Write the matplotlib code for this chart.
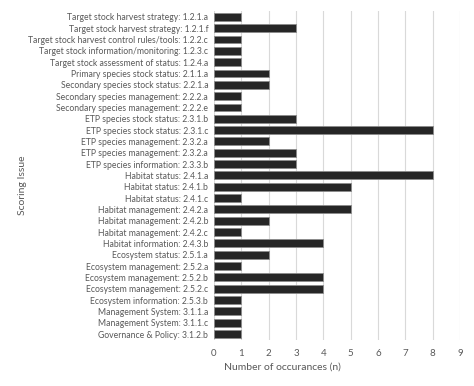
import matplotlib
matplotlib.use('Agg')
import matplotlib.pyplot as plt

# ── data ──────────────────────────────────────────────────────────────────────

issues = [
    'Target stock harvest strategy: 1.2.1.a',
    'Target stock harvest strategy: 1.2.1.f',
    'Target stock harvest control rules/tools: 1.2.2.c',
    'Target stock information/monitoring: 1.2.3.c',
    'Target stock assessment of status: 1.2.4.a',
    'Primary species stock status: 2.1.1.a',
    'Secondary species stock status: 2.2.1.a',
    'Secondary species management: 2.2.2.a',
    'Secondary species management: 2.2.2.e',
    'ETP species stock status: 2.3.1.b',
    'ETP species stock status: 2.3.1.c',
    'ETP species management: 2.3.2.a',
    'ETP species management: 2.3.2.a',
    'ETP species information: 2.3.3.b',
    'Habitat status: 2.4.1.a',
    'Habitat status: 2.4.1.b',
    'Habitat status: 2.4.1.c',
    'Habitat management: 2.4.2.a',
    'Habitat management: 2.4.2.b',
    'Habitat management: 2.4.2.c',
    'Habitat information: 2.4.3.b',
    'Ecosystem status: 2.5.1.a',
    'Ecosystem management: 2.5.2.a',
    'Ecosystem management: 2.5.2.b',
    'Ecosystem management: 2.5.2.c',
    'Ecosystem information: 2.5.3.b',
    'Management System: 3.1.1.a',
    'Management System: 3.1.1.c',
    'Governance & Policy: 3.1.2.b',
]
counts = [1, 3, 1, 1, 1, 2, 2, 1, 1, 3, 8, 2, 3, 3, 8, 5, 1, 5, 2, 1, 4,
          2, 1, 4, 4, 1, 1, 1, 1]
x_ticks = list(range(0, 10))

# ── figure ────────────────────────────────────────────────────────────────────

plt.rcParams['font.family'] = ['Lato', 'DejaVu Sans']
TXT = '#595959'

fig = plt.figure(figsize=(4.74, 3.86), dpi=100)
ax = fig.add_axes([0.451, 0.120, 0.520, 0.851])

pos = list(range(len(issues)))
ax.barh(pos, counts, height=0.7, color='#262626', edgecolor='#8c8c8c',
        linewidth=0.6, zorder=3)

ax.set_ylim(len(issues) - 0.5, -0.5)
ax.set_yticks(pos)
ax.set_yticklabels(issues, fontsize=6.2, color=TXT)
ax.set_xlim(0, 9)
ax.set_xticks(x_ticks)
ax.set_xticklabels([str(t) for t in x_ticks], fontsize=7, color=TXT)
ax.tick_params(length=0, pad=4)
ax.tick_params(axis='x', pad=7)

ax.grid(axis='x', color='#d9d9d9', linewidth=0.8, zorder=0)
for s in ax.spines.values():
    s.set_visible(False)

fig.text(0.595, 0.048, 'Number of occurances (n)', fontsize=7.5, color=TXT,
         ha='center', va='center')
fig.text(0.047, 0.52, 'Scoring Issue', rotation=90, fontsize=7.5, color=TXT,
         ha='center', va='center')

fig.savefig('out.png', dpi=100)
